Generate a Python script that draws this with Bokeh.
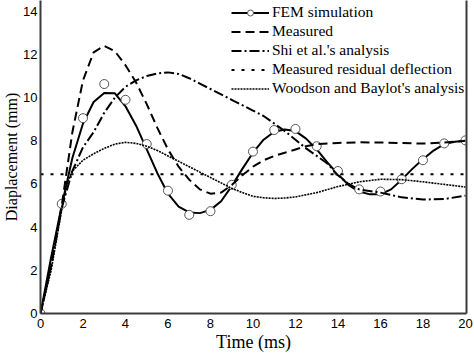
from bokeh.plotting import figure
from bokeh.models import (FixedTicker, LinearAxis, Legend, LegendItem, Range1d)
from bokeh.embed import file_html
from bokeh.resources import INLINE

# ---- data ----
fem_t = [0, 0.5, 1, 1.5, 2, 2.5, 3, 3.5, 4, 4.5, 5, 5.5, 6, 6.5, 7, 7.5, 8, 8.5, 9, 9.5,
         10, 10.5, 11, 11.5, 12, 12.5, 13, 13.5, 14, 14.5, 15, 15.5, 16, 16.5, 17, 17.5,
         18, 18.5, 19, 19.5, 20]
fem_d = [0, 2.6, 5.0, 7.2, 8.8, 9.8, 10.22, 10.2, 9.6, 8.7, 7.6, 6.5, 5.55, 4.95, 4.68, 4.65,
         4.8, 5.2, 5.9, 6.7, 7.45, 8.05, 8.42, 8.52, 8.45, 8.1, 7.6, 7.0, 6.45, 5.95, 5.65,
         5.52, 5.52, 5.75, 6.2, 6.7, 7.15, 7.55, 7.85, 7.96, 8.0]
fem_pts_t = list(range(0, 21))
fem_pts_d = [0, 5.08, 9.05, 10.63, 9.9, 7.85, 5.69, 4.57, 4.74, 5.96, 7.5, 8.5, 8.55, 7.75,
             6.6, 5.75, 5.65, 6.22, 7.1, 7.88, 8.02]

meas_t = [0, 0.5, 1, 1.5, 2, 2.5, 3, 3.5, 4, 4.5, 5, 5.5, 6, 6.5, 7, 7.5, 8, 8.5, 9, 9.5,
          10, 10.5, 11, 11.5, 12, 12.5, 13, 14, 15, 16, 17, 18, 19, 20]
meas_d = [0, 2.2, 5.0, 8.4, 10.8, 12.1, 12.4, 12.15, 11.5, 10.7, 9.7, 8.6, 7.6, 6.8, 6.2,
          5.75, 5.55, 5.6, 5.95, 6.4, 6.8, 7.1, 7.3, 7.45, 7.6, 7.75, 7.85, 7.9, 7.93, 7.92,
          7.9, 7.87, 7.92, 8.0]

shi_t = [0, 0.5, 1, 1.5, 2, 2.5, 3, 3.5, 4, 4.5, 5, 5.5, 6, 6.5, 7, 7.5, 8, 8.5, 9, 9.5,
         10, 10.5, 11, 11.5, 12, 12.5, 13, 13.5, 14, 14.5, 15, 16, 17, 18, 19, 20]
shi_d = [0, 2.2, 4.9, 6.6, 7.7, 8.4, 9.3, 10.0, 10.5, 10.8, 11.0, 11.12, 11.17, 11.1, 10.9,
         10.65, 10.4, 10.15, 9.9, 9.65, 9.4, 9.15, 8.8, 8.45, 8.05, 7.65, 7.3, 6.95, 6.4,
         6.0, 5.75, 5.6, 5.38, 5.28, 5.3, 5.46]

wood_t = [0, 0.5, 1, 1.25, 1.5, 2, 2.5, 3, 3.5, 4, 4.5, 5, 5.5, 6, 6.5, 7, 7.5, 8, 8.5, 9,
          9.5, 10, 10.5, 11, 11.5, 12, 13, 14, 15, 16, 17, 18, 19, 20]
wood_d = [0, 2.0, 4.8, 6.0, 6.6, 7.1, 7.4, 7.65, 7.85, 7.93, 7.88, 7.75, 7.55, 7.3, 7.05,
          6.8, 6.55, 6.3, 6.05, 5.8, 5.6, 5.43, 5.36, 5.33, 5.35, 5.4, 5.6, 5.88, 6.1, 6.22,
          6.2, 6.1, 5.98, 5.86]

resid_t = [0, 20]
resid_d = [6.45, 6.45]

x_ticks = [0, 2, 4, 6, 8, 10, 12, 14, 16, 18, 20]
y_ticks = [0, 2, 4, 6, 8, 10, 12, 14]

legend_labels = ["FEM simulation", "Measured", "Shi et al.'s analysis",
                 "Measured residual deflection", "Woodson and Baylot's analysis"]
x_label = "Time (ms)"
y_label = "Diaplacement (mm)"

SERIF = "Liberation Serif"
SANS = "Liberation Sans"

p = figure(width=474, height=355, output_backend="svg", toolbar_location=None,
           x_range=Range1d(0, 20.05), y_range=Range1d(0, 14.5),
           min_border_left=39, min_border_right=8, min_border_top=0, min_border_bottom=42)
p.outline_line_color = None
p.xgrid.visible = False
p.ygrid.visible = False
p.background_fill_color = "white"

for ax, ticks in ((p.xaxis[0], x_ticks), (p.yaxis[0], y_ticks)):
    ax.ticker = FixedTicker(ticks=ticks)
    ax.major_tick_out = 0
    ax.major_tick_in = 0
    ax.minor_tick_out = 0
    ax.minor_tick_in = 0
    ax.axis_line_width = 2
    ax.axis_line_color = "#3a3a3a"
    ax.major_label_text_font = SANS
    ax.major_label_text_font_size = "13px"
    ax.major_label_text_color = "black"
    ax.axis_label_text_font = SERIF
    ax.axis_label_text_font_style = "normal"
    ax.axis_label_text_color = "black"
p.xaxis[0].major_label_standoff = 5
p.yaxis[0].major_label_standoff = 3
p.xaxis[0].axis_label = x_label
p.xaxis[0].axis_label_text_font_size = "18px"
p.xaxis[0].axis_label_standoff = 1
p.yaxis[0].axis_label = y_label
p.yaxis[0].axis_label_text_font_size = "16px"
p.yaxis[0].axis_label_standoff = 0

right = LinearAxis(ticker=FixedTicker(ticks=[]), axis_line_width=2,
                   axis_line_color="#3a3a3a", major_tick_out=0, minor_tick_out=0,
                   major_label_text_font_size="0px")
p.add_layout(right, "right")

line_color = "black"
r_fem = p.line(fem_t, fem_d, line_color=line_color, line_width=2)
r_fem_pts = p.scatter(fem_pts_t, fem_pts_d, marker="circle", size=9, fill_color="white",
                      line_color="#555555", line_width=1)
r_meas = p.line(meas_t, meas_d, line_color=line_color, line_width=2, line_dash="9 5")
r_shi = p.line(shi_t, shi_d, line_color=line_color, line_width=2, line_dash="10 3 2 3")
r_res = p.line(resid_t, resid_d, line_color=line_color, line_width=2, line_dash="3 7")
r_wood = p.line(wood_t, wood_d, line_color=line_color, line_width=1.6, line_dash="2 1")

legend = Legend(items=[
    LegendItem(label=legend_labels[0], renderers=[r_fem, r_fem_pts]),
    LegendItem(label=legend_labels[1], renderers=[r_meas]),
    LegendItem(label=legend_labels[2], renderers=[r_shi]),
    LegendItem(label=legend_labels[3], renderers=[r_res]),
    LegendItem(label=legend_labels[4], renderers=[r_wood]),
], location=(191, 216))
legend.label_text_font = SERIF
legend.label_text_font_size = "15.5px"
legend.label_text_color = "black"
legend.glyph_width = 38
legend.glyph_height = 15
legend.label_height = 15
legend.label_standoff = 3
legend.spacing = 1
legend.padding = 0
legend.margin = 0
legend.border_line_color = None
legend.background_fill_color = "white"
legend.background_fill_alpha = 1.0
p.add_layout(legend, "center")

open("out.html", "w").write(file_html(p, INLINE))
